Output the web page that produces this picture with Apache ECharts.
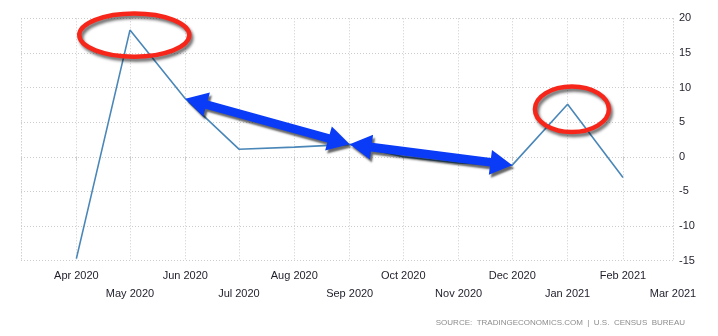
<!DOCTYPE html>
<html>
<head>
<meta charset="utf-8">
<script src="https://cdn.jsdelivr.net/npm/echarts@6/dist/echarts.min.js"></script>
<style>
  html, body { margin: 0; padding: 0; background: #fff; }
  #chart { width: 718px; height: 336px; }
</style>
</head>
<body>
<div id="chart"></div>
<script>
// ---- data ----
const dates = ['2020-04-01','2020-05-01','2020-06-01','2020-07-01','2020-08-01','2020-09-01',
               '2020-10-01','2020-11-01','2020-12-01','2021-01-01','2021-02-01'];
const values = [-14.7, 18.3, 8.4, 1.1, 1.4, 1.8, 0.0, -0.9, -1.2, 7.6, -3.0];
const monthNames = ['Jan','Feb','Mar','Apr','May','Jun','Jul','Aug','Sep','Oct','Nov','Dec'];
const xRange = ['2020-03-01', '2021-03-01'];
const yTicks = [-15, -10, -5, 0, 5, 10, 15, 20];
const sourceText = 'SOURCE:  TRADINGECONOMICS.COM  |  U.S.  CENSUS  BUREAU';
// annotation anchors (indices into the data)
const circled = [1, 9];
const arrows = [[2, 5], [5, 8]];

const chart = echarts.init(document.getElementById('chart'));
const font = 'Liberation Sans';
const minTs = echarts.time.parse(xRange[0]).getTime();

chart.setOption({
  animation: false,
  grid: { left: 21, right: 45, top: 18.3, bottom: 75.3, containLabel: false, outerBoundsMode: 'none' },
  xAxis: {
    type: 'time',
    min: xRange[0],
    max: xRange[1],
    splitNumber: 12,
    axisLine: { show: false },
    axisTick: { show: true, length: 4, lineStyle: { color: '#cccccc' } },
    splitLine: { show: true, lineStyle: { color: '#cccccc', type: [1, 2], width: 1 } },
    axisLabel: {
      showMinLabel: false,
      showMaxLabel: true,
      hideOverlap: false,
      margin: 6,
      color: '#1e1e2a',
      fontFamily: font,
      fontSize: 11,
      lineHeight: 18,
      formatter: function (val) {
        if (Math.abs(val - minTs) < 86400000) return '';
        const d = new Date(val);
        const m = d.getMonth();
        const txt = monthNames[m] + ' ' + d.getFullYear();
        return (m % 2 === 1) ? txt : '\n' + txt;
      }
    }
  },
  yAxis: {
    type: 'value',
    position: 'right',
    min: yTicks[0],
    max: yTicks[yTicks.length - 1],
    interval: 5,
    axisLine: { show: false },
    axisTick: { show: false },
    splitLine: { show: true, lineStyle: { color: '#cccccc', type: [1, 2], width: 1 } },
    axisLabel: { margin: 6, color: '#1e1e2a', fontFamily: font, fontSize: 11 }
  },
  series: [{
    type: 'line',
    data: dates.map((d, i) => [d, values[i]]),
    showSymbol: false,
    symbol: 'none',
    lineStyle: { color: '#4a87b8', width: 1.6 },
    z: 2
  }]
});

function px(i) {
  return chart.convertToPixel({ xAxisIndex: 0, yAxisIndex: 0 }, [dates[i], values[i]]);
}

function arrowPoly(p1, p2) {
  const dx = p2[0] - p1[0], dy = p2[1] - p1[1];
  const len = Math.sqrt(dx * dx + dy * dy);
  const ux = dx / len, uy = dy / len;
  const nx = -uy, ny = ux;
  const L = 22, H = 12.5, w = 4.3;
  const b1 = [p1[0] + ux * L, p1[1] + uy * L];
  const b2 = [p2[0] - ux * L, p2[1] - uy * L];
  const P = (b, s) => [b[0] + nx * s, b[1] + ny * s];
  return [p1, P(b1, H), P(b1, w), P(b2, w), P(b2, H), p2, P(b2, -H), P(b2, -w), P(b1, -w), P(b1, -H)];
}

const ellSizes = [[55, 21.6], [37, 22.8]];
const graphics = [];
circled.forEach((idx, k) => {
  const p = px(idx);
  graphics.push({
    type: 'ellipse',
    z: 100,
    shape: { cx: p[0] + 4.3, cy: p[1] + 5, rx: ellSizes[k][0], ry: ellSizes[k][1] },
    style: {
      fill: 'none', stroke: '#f7261a', lineWidth: 4.5,
      shadowBlur: 3, shadowColor: 'rgba(0,0,0,0.55)', shadowOffsetX: 2, shadowOffsetY: 3
    }
  });
});
arrows.forEach(pair => {
  const a = px(pair[0]), b = px(pair[1]);
  graphics.push({
    type: 'polygon',
    z: 100,
    shape: { points: arrowPoly(a, b) },
    style: {
      fill: '#0a3cf7',
      shadowBlur: 2, shadowColor: 'rgba(0,0,0,0.6)', shadowOffsetX: 2, shadowOffsetY: 3
    }
  });
});
graphics.push({
  type: 'text',
  right: 33,
  top: 319,
  style: { text: sourceText, fill: '#8c8c8c', font: '8px "Liberation Sans"' }
});
chart.setOption({ graphic: graphics });
</script>
</body>
</html>
